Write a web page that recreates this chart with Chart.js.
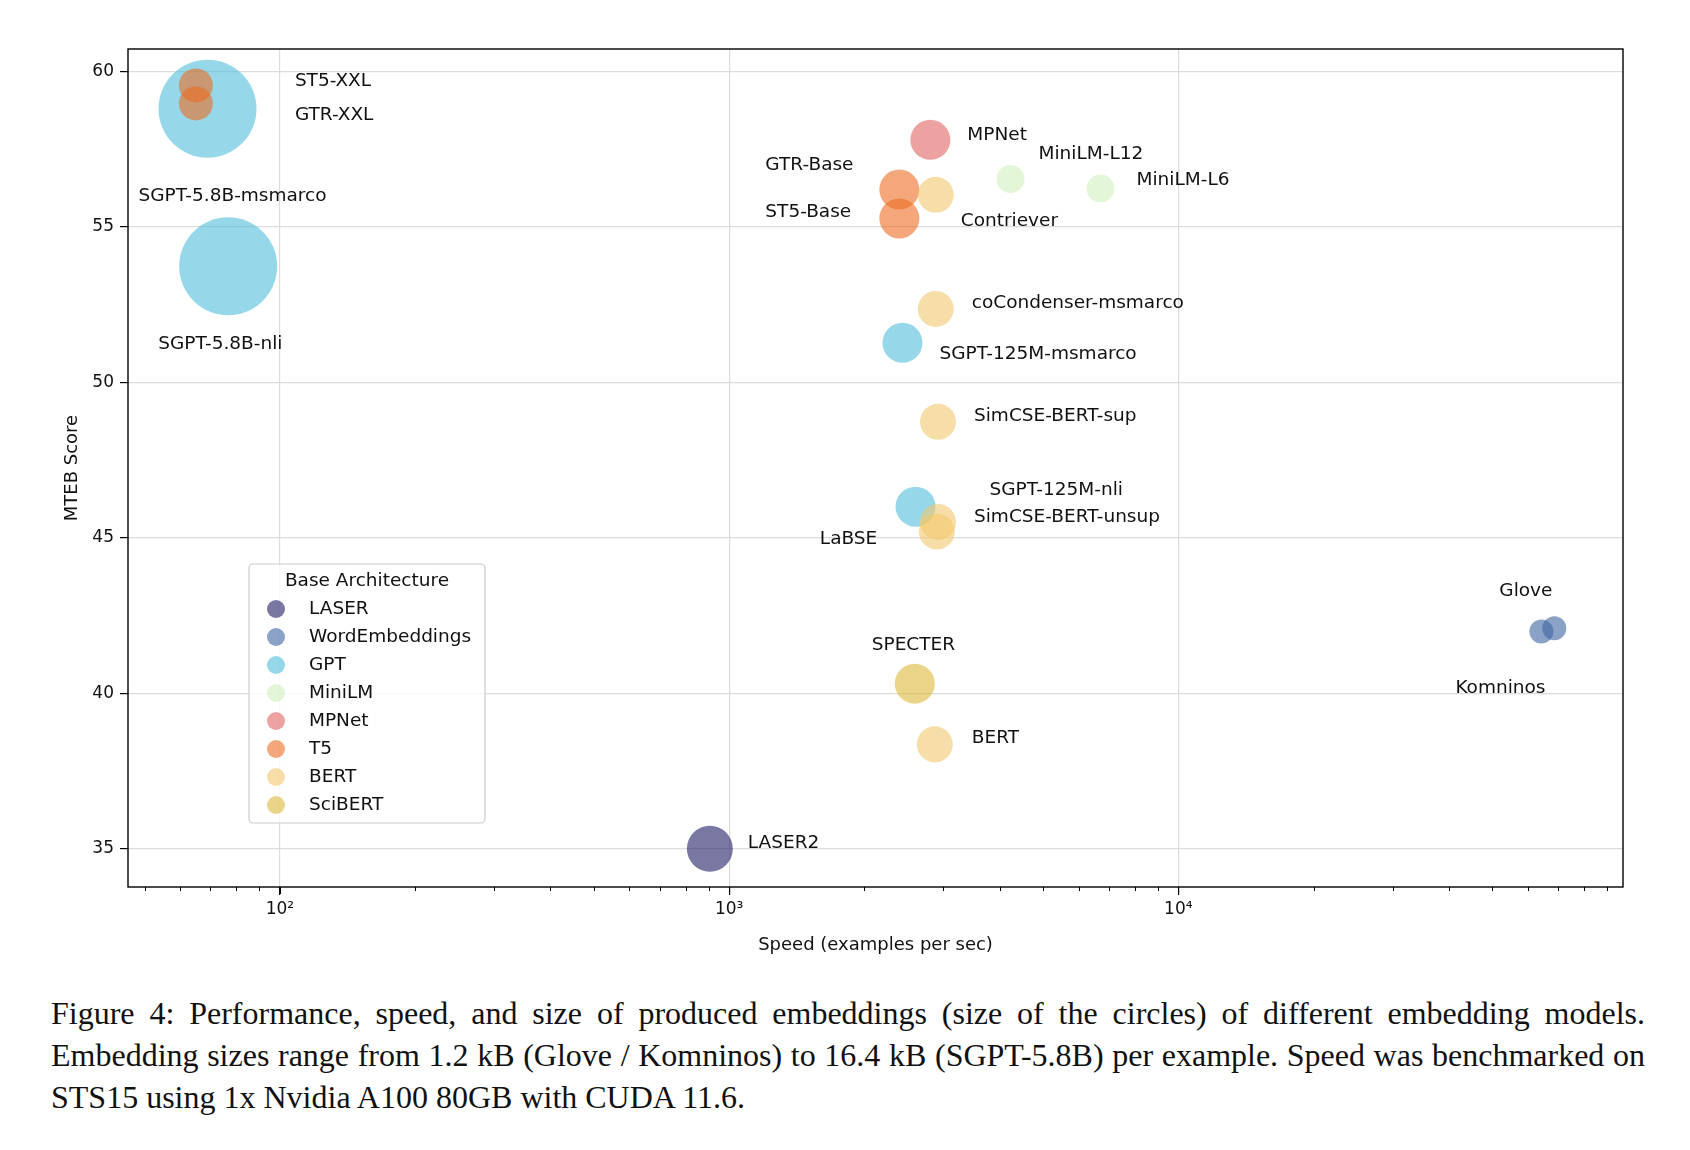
<!DOCTYPE html>
<html><head><meta charset="utf-8">
<script src="https://cdn.jsdelivr.net/npm/chart.js@4/dist/chart.umd.min.js"></script>
<style>
body{margin:0;background:#fff;width:1690px;height:1150px;overflow:hidden;position:relative}
#wrap{position:absolute;left:0;top:0;width:1690px;height:960px}
#cap{position:absolute;left:51px;top:992px;width:1594px;font-family:"Liberation Serif",serif;font-size:32px;line-height:42px;text-align:justify;color:#111}
</style></head><body>
<div id="wrap"><canvas id="c" width="1690" height="960"></canvas></div>
<div id="cap">Figure 4: Performance, speed, and size of produced embeddings (size of the circles) of different embedding models. Embedding sizes range from 1.2 kB (Glove / Komninos) to 16.4 kB (SGPT-5.8B) per example. Speed was benchmarked on STS15 using 1x Nvidia A100 80GB with CUDA 11.6.</div>
<script>
const models = ["SGPT-5.8B-msmarco","SGPT-5.8B-nli","ST5-XXL","GTR-XXL","MPNet","MiniLM-L12","MiniLM-L6","GTR-Base","ST5-Base","Contriever","coCondenser-msmarco","SGPT-125M-msmarco","SimCSE-BERT-sup","SGPT-125M-nli","SimCSE-BERT-unsup","LaBSE","SPECTER","BERT","LASER2","Glove","Komninos"];
const arch = ["GPT","GPT","T5","T5","MPNet","MiniLM","MiniLM","T5","T5","BERT","BERT","GPT","BERT","GPT","BERT","BERT","SciBERT","BERT","LASER","WordEmbeddings","WordEmbeddings"];
const speed = [69,76.7,65,65,2805,4230,6710,2393,2393,2884,2884,2432,2917,2600,2917,2900,2590,2870,906,68700,64300];
const score = [58.8,53.73,59.55,58.97,57.8,56.54,56.23,56.2,55.27,56.03,52.36,51.27,48.73,46.0,45.51,45.2,40.31,38.36,35.0,42.09,41.99];
const radius = [49,49,17,17,20,14,14,20,20,18,18,20,18,20,18,18,20,18,23,12,12];
const labelDx = [-69,-70,99,99,37,28,36,-134,-134,25,36,37,36,74,36,-117,-43,37,38,-55,-86];
const labelDy = [87,78,-4,12,-5,-25,-8,-24,-6,26,-6,11,-6,-17,-5,8,-38,-6,-6,-37,57];
const archNames = ["LASER","WordEmbeddings","GPT","MiniLM","MPNet","T5","BERT","SciBERT"];
const archColors = ["rgba(30,30,100,0.6)","rgba(60,100,160,0.6)","rgba(80,190,220,0.6)","rgba(210,240,190,0.6)","rgba(225,100,100,0.6)","rgba(235,108,33,0.6)","rgba(242,200,110,0.6)","rgba(220,183,57,0.6)"];
const yTicks = [35,40,45,50,55,60];
const xMajor = [100,1000,10000];
const xTickLabels = ["10²","10³","10⁴"];

const datasets = archNames.map((a,ai)=>({
  label:a, order:-ai,
  data: models.map((m,i)=>({x:speed[i],y:score[i],r:radius[i],name:m})).filter((d,i)=>arch[i]===a),
  backgroundColor: archColors[ai], borderWidth:0, hoverBorderWidth:0
}));
const F = "DejaVu Sans";
const extras = {
  id:'extras',
  afterDatasetsDraw(ch){
    const c=ch.ctx, xs=ch.scales.x, ys=ch.scales.y, a=ch.chartArea;
    c.save();
    c.fillStyle='#111'; c.font='18.5px "'+F+'"'; c.textBaseline='middle'; c.textAlign='left';
    models.forEach((m,i)=>{
      c.fillText(m, xs.getPixelForValue(speed[i])+labelDx[i], ys.getPixelForValue(score[i])+labelDy[i]);
    });
    c.strokeStyle='#000'; c.lineWidth=1;
    for(let e=1;e<=4;e++){for(let k=1;k<10;k++){const v=k*Math.pow(10,e);
      if(v<xs.min||v>xs.max) continue; const p=Math.round(xs.getPixelForValue(v))+0.5;
      const L = k===1?7:4; c.beginPath(); c.moveTo(p,a.bottom); c.lineTo(p,a.bottom+L); c.stroke();}}
    c.lineWidth=1.4; c.strokeRect(a.left,a.top,a.right-a.left,a.bottom-a.top);
    // y title
    c.save(); c.translate(72,(a.top+a.bottom)/2); c.rotate(-Math.PI/2);
    c.textAlign='center'; c.font='18px "'+F+'"'; c.fillText('MTEB Score',0,0); c.restore();
    // legend
    const lx=249, ly=564, lw=236, lh=259;
    c.fillStyle='rgba(255,255,255,0.8)'; c.strokeStyle='#ccc'; c.lineWidth=1.2;
    c.beginPath(); c.roundRect(lx,ly,lw,lh,4); c.fill(); c.stroke();
    c.fillStyle='#111'; c.textAlign='center'; c.fillText('Base Architecture', lx+lw/2, ly+17);
    c.textAlign='left';
    archNames.forEach((n,i)=>{const yy=ly+45+i*28;
      c.fillStyle=archColors[i]; c.beginPath(); c.arc(lx+27,yy,9,0,Math.PI*2); c.fill();
      c.fillStyle='#111'; c.fillText(n,lx+60,yy);});
    c.restore();
  }
};
new Chart(document.getElementById('c'),{
  type:'bubble',
  data:{datasets},
  plugins:[extras],
  options:{
    responsive:false, animation:false, devicePixelRatio:1,
    layout:{padding:{top:30,right:67,left:0,bottom:0}},
    plugins:{legend:{display:false},tooltip:{enabled:false}},
    scales:{
      x:{type:'logarithmic',min:45.9,max:97700,
        afterBuildTicks(s){s.ticks=xMajor.map(v=>({value:v}));},
        afterFit(s){s.height=73;},
        ticks:{autoSkip:false,maxRotation:0,color:'#111',font:{family:F,size:17},padding:4,callback:(v,i)=>xTickLabels[i]},
        grid:{color:'#dcdcdc',lineWidth:1.2,tickColor:'#000',tickLength:8,drawTicks:true},
        border:{display:false},
        title:{display:true,text:'Speed (examples per sec)',color:'#111',font:{family:F,size:18},padding:{top:4}}},
      y:{min:33.77,max:60.72,
        afterBuildTicks(s){s.ticks=yTicks.map(v=>({value:v}));},
        afterFit(s){s.width=128;},
        ticks:{color:'#111',font:{family:F,size:17},padding:6},
        grid:{color:'#dcdcdc',lineWidth:1.2,tickColor:'#000',tickLength:8},
        border:{display:false}}
    }
  }
});
</script></body></html>
